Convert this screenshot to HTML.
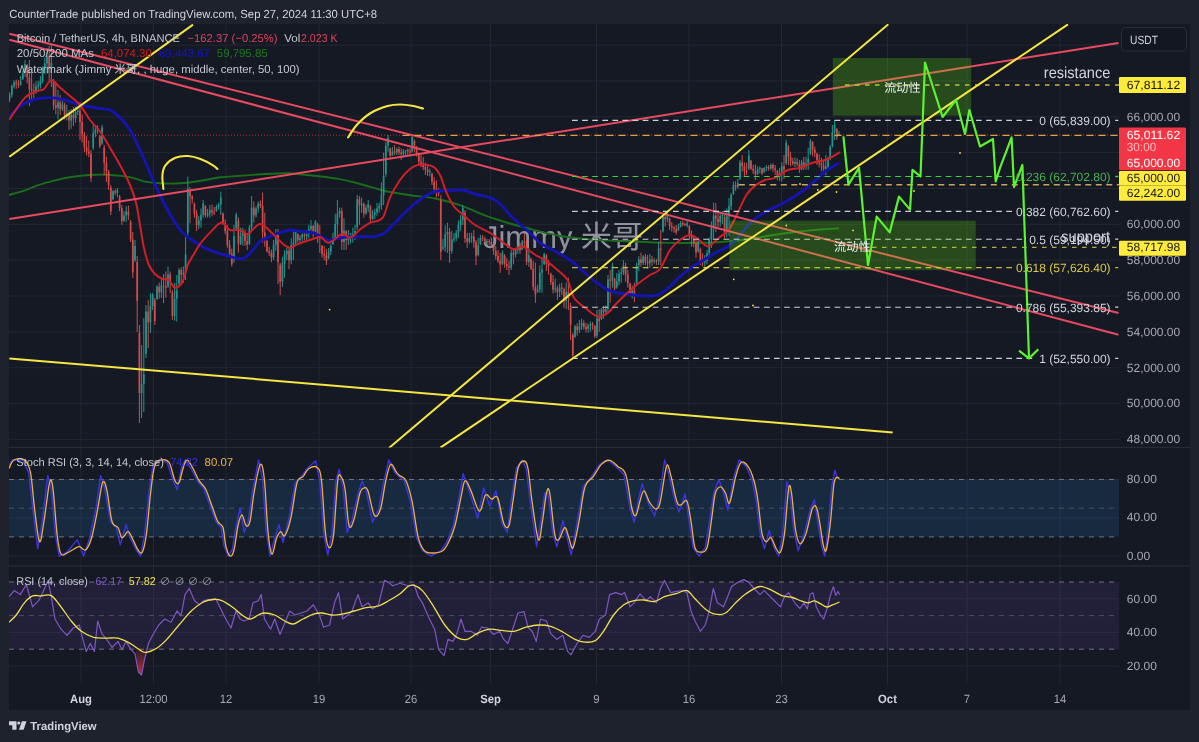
<!DOCTYPE html>
<html lang="en"><head><meta charset="utf-8"><title>BTCUSDT chart</title>
<style>
html,body{margin:0;padding:0;background:#1e222d;}
body{width:1199px;height:742px;overflow:hidden;font-family:"Liberation Sans","Noto Sans CJK SC",sans-serif;}
svg{display:block;position:absolute;left:0;top:0;will-change:transform;text-rendering:geometricPrecision;}
</style></head><body>
<svg width="1199" height="742" viewBox="0 0 1199 742" font-family="'Liberation Sans', 'Noto Sans CJK SC', sans-serif"><rect x="9.0" y="24.0" width="1181.0" height="686.0" fill="#151924"/>
<g><line x1="81.0" y1="24.0" x2="81.0" y2="684.0" stroke="#232733" stroke-width="1"/><line x1="153.5" y1="24.0" x2="153.5" y2="684.0" stroke="#232733" stroke-width="1"/><line x1="226.0" y1="24.0" x2="226.0" y2="684.0" stroke="#232733" stroke-width="1"/><line x1="319.0" y1="24.0" x2="319.0" y2="684.0" stroke="#232733" stroke-width="1"/><line x1="411.0" y1="24.0" x2="411.0" y2="684.0" stroke="#232733" stroke-width="1"/><line x1="490.6" y1="24.0" x2="490.6" y2="684.0" stroke="#232733" stroke-width="1"/><line x1="596.5" y1="24.0" x2="596.5" y2="684.0" stroke="#232733" stroke-width="1"/><line x1="689.0" y1="24.0" x2="689.0" y2="684.0" stroke="#232733" stroke-width="1"/><line x1="781.5" y1="24.0" x2="781.5" y2="684.0" stroke="#232733" stroke-width="1"/><line x1="887.5" y1="24.0" x2="887.5" y2="684.0" stroke="#232733" stroke-width="1"/><line x1="967.0" y1="24.0" x2="967.0" y2="684.0" stroke="#232733" stroke-width="1"/><line x1="1060.0" y1="24.0" x2="1060.0" y2="684.0" stroke="#232733" stroke-width="1"/><line x1="9.0" y1="439.4" x2="1119.0" y2="439.4" stroke="#232733" stroke-width="1"/><line x1="9.0" y1="403.6" x2="1119.0" y2="403.6" stroke="#232733" stroke-width="1"/><line x1="9.0" y1="367.7" x2="1119.0" y2="367.7" stroke="#232733" stroke-width="1"/><line x1="9.0" y1="331.9" x2="1119.0" y2="331.9" stroke="#232733" stroke-width="1"/><line x1="9.0" y1="296.0" x2="1119.0" y2="296.0" stroke="#232733" stroke-width="1"/><line x1="9.0" y1="260.2" x2="1119.0" y2="260.2" stroke="#232733" stroke-width="1"/><line x1="9.0" y1="224.3" x2="1119.0" y2="224.3" stroke="#232733" stroke-width="1"/><line x1="9.0" y1="188.5" x2="1119.0" y2="188.5" stroke="#232733" stroke-width="1"/><line x1="9.0" y1="152.6" x2="1119.0" y2="152.6" stroke="#232733" stroke-width="1"/><line x1="9.0" y1="116.8" x2="1119.0" y2="116.8" stroke="#232733" stroke-width="1"/><line x1="9.0" y1="80.9" x2="1119.0" y2="80.9" stroke="#232733" stroke-width="1"/><line x1="9.0" y1="45.1" x2="1119.0" y2="45.1" stroke="#232733" stroke-width="1"/><line x1="9.0" y1="556.0" x2="1119.0" y2="556.0" stroke="#232733" stroke-width="1"/><line x1="9.0" y1="517.8" x2="1119.0" y2="517.8" stroke="#232733" stroke-width="1"/><line x1="9.0" y1="479.5" x2="1119.0" y2="479.5" stroke="#232733" stroke-width="1"/><line x1="9.0" y1="666.0" x2="1119.0" y2="666.0" stroke="#232733" stroke-width="1"/><line x1="9.0" y1="632.4" x2="1119.0" y2="632.4" stroke="#232733" stroke-width="1"/><line x1="9.0" y1="598.8" x2="1119.0" y2="598.8" stroke="#232733" stroke-width="1"/></g>
<line x1="9.0" y1="447.4" x2="1190.0" y2="447.4" stroke="#2a2e39" stroke-width="1"/>
<line x1="9.0" y1="566.0" x2="1190.0" y2="566.0" stroke="#2a2e39" stroke-width="1"/>
<rect x="9.0" y="479.5" width="1110.0" height="57.4" fill="#2196f3" fill-opacity="0.14"/>
<rect x="9.0" y="582.0" width="1110.0" height="67.2" fill="#7e57c2" fill-opacity="0.13"/>
<line x1="9.0" y1="479.5" x2="1119.0" y2="479.5" stroke="#787b86" stroke-width="1" stroke-dasharray="5 5" opacity="0.9"/>
<line x1="9.0" y1="508.2" x2="1119.0" y2="508.2" stroke="#787b86" stroke-width="1" stroke-dasharray="5 5" opacity="0.5"/>
<line x1="9.0" y1="536.9" x2="1119.0" y2="536.9" stroke="#787b86" stroke-width="1" stroke-dasharray="5 5" opacity="0.9"/>
<line x1="9.0" y1="582.0" x2="1119.0" y2="582.0" stroke="#787b86" stroke-width="1" stroke-dasharray="5 5" opacity="0.9"/>
<line x1="9.0" y1="615.6" x2="1119.0" y2="615.6" stroke="#787b86" stroke-width="1" stroke-dasharray="5 5" opacity="0.5"/>
<line x1="9.0" y1="649.2" x2="1119.0" y2="649.2" stroke="#787b86" stroke-width="1" stroke-dasharray="5 5" opacity="0.9"/>
<clipPath id="c1"><rect x="9" y="24" width="1110" height="423.4"/></clipPath>
<g clip-path="url(#c1)">
<line x1="9.0" y1="135.2" x2="1119.0" y2="135.2" stroke="#f23645" stroke-width="1" stroke-dasharray="1 2" opacity="0.75"/>
<text x="483.0" y="248.3" textLength="160.0" lengthAdjust="spacingAndGlyphs" fill="#b2b5be" fill-opacity="0.78" font-size="31.6">Jimmy 米哥</text>
<path d="M9.0 195.0 C11.7 194.2 20.2 191.9 25.0 190.3 C29.8 188.7 32.6 187.0 37.6 185.3 C42.6 183.6 48.8 181.8 55.0 180.3 C61.2 178.8 68.3 177.4 75.0 176.5 C81.7 175.6 89.5 175.1 95.0 174.8 C100.5 174.5 103.6 174.6 107.8 174.8 C112.0 175.0 115.8 175.3 120.0 175.8 C124.2 176.3 128.8 176.8 133.0 177.8 C137.2 178.8 140.5 180.7 145.0 181.6 C149.5 182.5 154.1 183.0 160.0 183.3 C165.9 183.6 173.8 183.7 180.5 183.3 C187.2 182.9 193.8 181.8 200.5 180.8 C207.2 179.8 213.8 178.1 220.5 177.3 C227.2 176.5 233.1 176.4 240.6 175.8 C248.1 175.2 257.8 174.4 265.7 174.0 C273.6 173.6 282.3 173.2 288.0 173.3 C293.7 173.4 291.8 173.4 300.0 174.3 C308.2 175.2 327.0 177.0 337.0 178.6 C347.0 180.2 352.0 181.9 360.0 184.0 C368.0 186.1 376.7 189.1 385.0 191.0 C393.3 192.9 401.7 193.9 410.0 195.2 C418.3 196.4 426.7 196.8 435.0 198.5 C443.3 200.2 451.7 202.4 460.0 205.2 C468.3 208.0 476.7 212.2 485.0 215.3 C493.3 218.4 501.6 221.0 510.0 223.5 C518.4 226.0 527.0 228.2 535.4 230.3 C543.8 232.4 552.1 234.6 560.5 236.0 C568.9 237.4 577.2 238.2 585.6 239.0 C594.0 239.8 602.2 240.2 610.6 240.6 C619.0 241.0 627.5 241.2 635.7 241.5 C643.9 241.8 650.0 242.3 660.0 242.6 C670.0 242.8 685.3 243.1 695.4 243.0 C705.5 242.9 712.1 242.6 720.5 242.0 C728.9 241.4 737.1 240.6 745.5 239.5 C753.9 238.4 762.2 236.8 770.6 235.5 C779.0 234.2 787.5 233.0 795.7 232.0 C803.9 231.0 812.8 230.1 820.0 229.5 C827.2 228.9 835.8 228.6 839.0 228.4" fill="none" stroke="#1a6e1a" stroke-width="1.9"/>
<g opacity="0.88">
<path d="M9.6 92.2V102.0M11.8 84.6V97.5M14.0 80.4V88.5M20.6 76.1V85.8M22.8 70.8V80.0M25.0 60.0V76.8M36.0 81.6V94.0M38.2 80.8V91.5M40.4 76.0V88.5M42.6 66.1V83.4M44.8 57.5V73.8M47.0 48.0V73.7M51.4 44.0V87.0M58.0 90.0V119.5M62.4 99.0V111.0M66.8 104.7V120.3M71.2 109.1V128.8M75.6 106.6V122.8M77.8 108.0V115.1M93.2 125.0V150.0M95.4 125.0V137.1M97.6 125.0V133.9M102.0 125.0V145.0M113.0 190.0V200.0M117.4 188.0V197.4M124.0 210.9V222.0M126.2 206.2V222.0M135.0 240.0V262.0M141.6 345.0V418.0M143.8 318.0V412.0M146.0 305.0V358.0M150.4 293.0V333.0M152.6 293.0V310.0M157.0 285.0V300.0M161.4 278.0V298.0M168.0 266.6V288.0M174.6 282.9V320.8M176.8 275.0V321.6M179.0 268.0V285.0M183.4 266.5V282.8M185.6 234.0V280.0M187.8 176.5V237.6M198.8 215.9V229.0M201.0 208.4V227.6M203.2 200.0V217.6M207.6 208.8V217.6M209.8 205.0V217.6M216.4 204.7V211.8M218.6 202.6V209.6M220.8 191.6V215.0M234.0 225.0V262.7M236.2 212.6V230.0M240.6 227.6V245.0M242.8 227.7V245.4M249.4 225.0V245.0M251.6 196.0V230.0M256.0 206.3V217.6M258.2 201.5V212.6M273.6 240.0V260.0M275.8 229.0V250.6M282.4 256.8V286.9M284.6 250.0V277.7M286.8 247.7V260.0M291.2 238.2V264.2M293.4 230.0V260.0M295.6 230.0V245.0M300.0 235.0V242.7M302.2 231.0V241.1M306.6 230.0V240.0M308.8 224.7V238.5M311.0 220.0V231.8M315.4 220.0V232.6M328.6 248.0V259.4M330.8 243.5V255.0M333.0 232.6V245.0M335.2 213.7V240.7M337.4 200.0V237.6M339.6 207.6V217.6M344.0 218.1V250.0M348.4 230.0V245.0M350.6 232.9V243.6M352.8 227.6V242.7M355.0 225.0V240.0M357.2 195.0V230.0M361.6 197.5V212.9M366.0 205.0V214.9M368.2 200.0V211.9M372.6 210.0V220.0M374.8 208.6V218.9M377.0 203.0V215.8M379.2 202.7V212.6M381.4 182.5V209.8M383.6 152.6V205.0M385.8 141.6V176.9M388.0 135.0V151.7M392.4 146.8V156.0M396.8 147.5V155.0M403.4 149.0V157.6M405.6 150.0V155.3M412.2 135.0V152.6M429.8 168.7V176.5M443.0 238.8V250.0M445.2 225.5V251.8M447.4 222.8V252.9M451.8 230.8V253.8M454.0 233.0V242.4M456.2 230.0V241.2M458.4 220.5V237.9M460.6 215.0V230.9M462.8 205.0V225.0M469.4 232.8V243.6M471.6 232.8V242.8M478.2 237.9V256.4M480.4 235.0V245.0M487.0 238.8V245.0M502.4 250.5V265.0M511.2 250.0V270.0M515.6 247.8V257.6M517.8 244.3V253.5M522.2 240.0V250.0M528.8 247.5V266.9M537.6 284.7V292.8M539.8 265.3V292.8M542.0 257.7V292.8M544.2 252.7V265.0M555.2 278.7V293.0M559.6 283.6V297.1M566.2 282.4V309.0M575.0 325.0V337.9M579.4 320.0V332.9M581.6 318.7V330.0M588.2 323.6V332.9M590.4 321.5V331.5M597.0 310.0V337.9M601.4 307.8V320.0M605.8 305.3V315.7M608.0 275.0V312.8M612.4 262.7V287.7M616.8 273.1V288.6M619.0 270.0V285.2M621.2 267.7V282.7M623.4 260.2V275.0M632.2 285.6V298.6M636.6 262.7V285.0M638.8 256.1V271.0M643.2 255.0V265.0M649.8 254.0V268.0M654.2 257.7V263.6M658.6 241.7V265.0M663.0 215.0V232.6M667.4 211.5V222.3M678.4 223.6V231.1M680.6 221.0V227.6M687.2 220.3V227.4M698.2 237.6V252.7M704.8 255.0V267.6M707.0 250.0V264.2M709.2 237.6V255.0M711.4 221.2V248.0M713.6 202.5V240.0M720.2 211.7V226.6M722.4 211.2V224.0M726.8 208.3V237.5M729.0 198.0V236.0M731.2 192.8V210.0M733.4 181.5V195.0M737.8 178.8V188.8M740.0 160.0V180.0M748.8 150.0V170.0M757.6 166.3V175.0M759.8 166.5V173.5M764.2 167.1V172.8M766.4 165.2V171.2M770.8 163.7V169.8M779.6 167.8V181.1M781.8 162.2V181.5M786.2 140.0V165.0M795.0 157.5V167.1M801.6 160.0V170.0M806.0 156.7V169.6M808.2 147.7V170.0M810.4 139.0V155.0M825.8 155.0V175.1M828.0 156.6V169.3M830.2 145.0V160.0M832.4 125.0V147.7M834.6 120.0V140.0M839.0 131.1V136.0" stroke="#26a69a" stroke-width="1" fill="none"/>
<path d="M16.2 79.5V88.8M18.4 80.1V88.1M27.2 64.0V83.5M29.4 60.0V106.0M31.6 70.4V101.3M33.8 83.5V98.0M49.2 45.9V80.7M53.6 79.0V110.0M55.8 84.0V114.3M60.2 95.0V114.8M64.6 102.7V119.4M69.0 110.0V130.0M73.4 107.0V126.0M80.0 102.0V140.0M82.2 114.5V142.5M84.4 132.0V152.0M86.6 136.0V155.5M88.8 140.5V157.4M91.0 150.0V182.0M99.8 135.0V148.2M104.2 145.0V175.0M106.4 156.7V182.0M108.6 170.0V190.0M110.8 185.0V215.0M115.2 189.2V195.2M119.6 195.0V211.2M121.8 205.0V225.0M128.4 205.6V220.1M130.6 220.0V242.0M132.8 232.0V278.0M137.2 256.0V332.0M139.4 325.0V423.0M148.2 300.2V348.0M154.8 298.0V325.0M159.2 282.5V298.7M163.6 274.0V303.0M165.8 271.4V297.7M170.2 271.5V293.0M172.4 290.0V320.0M181.2 267.3V284.0M190.0 187.1V223.3M192.2 195.0V203.6M194.4 202.5V217.6M196.6 210.0V231.0M205.4 205.2V217.6M212.0 204.5V216.3M214.2 206.8V215.0M223.0 212.6V225.0M225.2 219.6V234.1M227.4 225.0V247.7M229.6 240.0V257.7M231.8 248.7V266.5M238.4 217.6V252.7M245.0 229.5V246.0M247.2 235.0V249.9M253.8 201.4V222.6M260.4 200.5V208.0M262.6 192.5V242.7M264.8 212.7V246.9M267.0 240.0V252.7M269.2 246.8V255.9M271.4 249.6V262.2M278.0 229.0V284.0M280.2 262.7V295.0M289.0 247.7V269.0M297.8 233.3V242.5M304.4 232.0V240.4M313.2 225.0V237.6M317.6 222.7V242.9M319.8 225.0V252.7M322.0 245.0V257.7M324.2 246.0V260.0M326.4 248.8V265.0M341.8 207.6V250.0M346.2 230.0V249.8M359.4 195.9V224.8M363.8 202.5V217.6M370.4 205.0V222.1M390.2 147.6V157.6M394.6 145.0V155.0M399.0 146.7V155.0M401.2 148.3V160.0M407.8 148.3V155.3M410.0 148.1V154.7M414.4 139.5V152.2M416.6 146.0V156.5M418.8 152.6V165.0M421.0 154.9V167.3M423.2 156.9V170.0M425.4 162.6V175.0M427.6 164.3V175.9M432.0 172.7V185.0M434.2 177.2V190.6M436.4 180.3V197.5M438.6 188.2V196.3M440.8 195.0V260.0M449.6 227.8V262.9M465.0 210.0V242.8M467.2 232.8V247.8M473.8 230.0V247.7M476.0 240.0V265.0M482.6 235.0V241.1M484.8 236.5V244.0M489.2 239.0V245.0M491.4 237.6V248.0M493.6 242.3V255.0M495.8 246.0V259.7M498.0 250.2V262.9M500.2 252.9V272.9M504.6 254.2V267.7M506.8 257.9V270.0M509.0 260.6V275.0M513.4 249.0V264.4M520.0 242.8V253.8M524.4 233.7V248.2M526.6 240.0V265.0M531.0 257.7V270.0M533.2 260.8V290.6M535.4 262.7V302.8M546.4 254.1V271.0M548.6 260.1V274.6M550.8 272.7V285.0M553.0 275.0V293.4M557.4 285.6V300.0M561.8 282.7V295.0M564.0 287.7V307.8M568.4 277.7V310.0M570.6 302.8V340.0M572.8 332.9V358.4M577.2 323.2V335.5M583.8 320.2V329.5M586.0 322.8V332.5M592.6 322.0V329.8M594.8 325.0V337.9M599.2 309.2V331.8M603.6 306.1V318.7M610.2 270.1V302.8M614.6 277.7V290.0M625.6 262.7V281.8M627.8 269.8V287.7M630.0 282.7V295.0M634.4 282.7V302.2M641.0 252.7V266.8M645.4 253.9V265.2M647.6 255.0V268.8M652.0 255.9V265.9M656.4 258.9V265.0M660.8 230.0V265.0M665.2 214.3V226.5M669.6 217.6V230.0M671.8 222.0V231.6M674.0 225.8V232.6M676.2 225.0V234.6M682.8 220.6V226.5M685.0 222.6V226.0M689.4 225.0V240.0M691.6 230.3V246.8M693.8 235.0V247.3M696.0 240.0V257.7M700.4 247.7V265.0M702.6 253.2V266.4M715.8 203.0V232.0M718.0 213.0V228.0M724.6 215.0V238.5M735.6 181.4V190.9M742.2 155.0V171.8M744.4 162.4V176.1M746.6 162.8V175.0M751.0 160.0V170.0M753.2 164.8V174.0M755.4 164.5V180.0M762.0 167.8V175.0M768.6 165.2V170.7M773.0 163.2V171.8M775.2 165.0V175.0M777.4 170.0V180.0M784.0 155.0V178.9M788.4 145.0V165.0M790.6 151.8V166.5M792.8 157.7V165.6M797.2 158.4V166.4M799.4 160.0V172.8M803.8 157.0V170.1M812.6 141.0V156.3M814.8 146.5V157.2M817.0 152.7V165.0M819.2 154.5V167.4M821.4 157.7V171.0M823.6 160.0V172.8M836.8 128.0V140.0" stroke="#ef5350" stroke-width="1" fill="none"/>
<path d="M8.75 95.1h1.7v4.5h-1.7zM10.95 86.1h1.7v8.9h-1.7zM13.15 82.3h1.7v3.9h-1.7zM19.75 81.5h1.7v3.2h-1.7zM21.95 72.9h1.7v6.1h-1.7zM24.15 64.1h1.7v8.8h-1.7zM35.15 86.2h1.7v5.3h-1.7zM37.35 84.7h1.7v1.5h-1.7zM39.55 80.8h1.7v3.9h-1.7zM41.75 68.6h1.7v12.2h-1.7zM43.95 63.6h1.7v5.0h-1.7zM46.15 56.3h1.7v7.3h-1.7zM50.55 63.3h1.7v5.5h-1.7zM57.15 102.4h1.7v5.4h-1.7zM61.55 104.5h1.7v4.8h-1.7zM65.95 113.4h1.7v2.1h-1.7zM70.35 114.7h1.7v5.9h-1.7zM74.75 112.0h1.7v6.2h-1.7zM76.95 110.8h1.7v1.2h-1.7zM92.35 133.3h1.7v14.7h-1.7zM94.55 130.2h1.7v3.1h-1.7zM96.75 128.0h1.7v2.2h-1.7zM101.15 127.4h1.7v16.0h-1.7zM112.15 191.2h1.7v8.0h-1.7zM116.55 190.2h1.7v2.5h-1.7zM123.15 215.5h1.7v5.3h-1.7zM125.35 211.5h1.7v3.9h-1.7zM134.15 246.0h1.7v14.3h-1.7zM140.75 384.3h1.7v8.7h-1.7zM142.95 373.9h1.7v10.4h-1.7zM145.15 311.4h1.7v42.4h-1.7zM149.55 306.0h1.7v16.3h-1.7zM151.75 295.0h1.7v10.9h-1.7zM156.15 286.8h1.7v12.0h-1.7zM160.55 285.4h1.7v6.8h-1.7zM167.15 274.4h1.7v11.9h-1.7zM173.75 298.9h1.7v17.1h-1.7zM175.95 290.2h1.7v8.6h-1.7zM178.15 270.0h1.7v13.6h-1.7zM182.55 273.2h1.7v1.3h-1.7zM184.75 254.5h1.7v18.6h-1.7zM186.95 188.8h1.7v43.9h-1.7zM197.95 220.3h1.7v4.9h-1.7zM200.15 214.7h1.7v5.6h-1.7zM202.35 203.6h1.7v11.1h-1.7zM206.75 213.3h1.7v1.9h-1.7zM208.95 210.3h1.7v3.1h-1.7zM215.55 206.9h1.7v4.1h-1.7zM217.75 204.4h1.7v2.5h-1.7zM219.95 197.6h1.7v6.8h-1.7zM233.15 236.2h1.7v23.5h-1.7zM235.35 214.7h1.7v13.9h-1.7zM239.75 235.7h1.7v7.9h-1.7zM241.95 233.3h1.7v2.4h-1.7zM248.55 227.4h1.7v16.0h-1.7zM250.75 207.6h1.7v19.7h-1.7zM255.15 208.6h1.7v6.7h-1.7zM257.35 203.7h1.7v4.9h-1.7zM272.75 244.5h1.7v12.9h-1.7zM274.95 233.2h1.7v11.4h-1.7zM281.55 263.5h1.7v18.1h-1.7zM283.75 254.3h1.7v9.3h-1.7zM285.95 250.7h1.7v3.6h-1.7zM290.35 245.1h1.7v15.2h-1.7zM292.55 243.1h1.7v2.0h-1.7zM294.75 231.8h1.7v11.3h-1.7zM299.15 237.7h1.7v2.3h-1.7zM301.35 234.7h1.7v3.1h-1.7zM305.75 233.7h1.7v2.2h-1.7zM307.95 229.1h1.7v4.6h-1.7zM310.15 225.9h1.7v3.2h-1.7zM314.55 221.6h1.7v9.9h-1.7zM327.75 251.8h1.7v6.3h-1.7zM329.95 246.1h1.7v5.7h-1.7zM332.15 237.2h1.7v6.8h-1.7zM334.35 224.0h1.7v13.2h-1.7zM336.55 213.8h1.7v10.2h-1.7zM338.75 211.0h1.7v2.8h-1.7zM343.15 230.6h1.7v11.4h-1.7zM347.55 236.8h1.7v3.3h-1.7zM349.75 235.2h1.7v1.7h-1.7zM351.95 234.0h1.7v1.2h-1.7zM354.15 231.1h1.7v2.9h-1.7zM356.35 199.2h1.7v28.0h-1.7zM360.75 203.8h1.7v1.5h-1.7zM365.15 207.7h1.7v5.9h-1.7zM367.35 203.9h1.7v3.8h-1.7zM371.75 214.7h1.7v4.1h-1.7zM373.95 212.5h1.7v2.2h-1.7zM376.15 208.5h1.7v4.0h-1.7zM378.35 206.1h1.7v2.4h-1.7zM380.55 195.3h1.7v10.8h-1.7zM382.75 175.8h1.7v19.6h-1.7zM384.95 145.8h1.7v28.2h-1.7zM387.15 138.0h1.7v7.8h-1.7zM391.55 151.4h1.7v3.8h-1.7zM395.95 148.9h1.7v3.7h-1.7zM402.55 151.2h1.7v2.9h-1.7zM404.75 150.0h1.7v1.2h-1.7zM411.35 137.1h1.7v14.1h-1.7zM428.95 170.9h1.7v1.2h-1.7zM442.15 247.2h1.7v1.2h-1.7zM444.35 234.3h1.7v12.9h-1.7zM446.55 232.0h1.7v2.3h-1.7zM450.95 239.6h1.7v11.3h-1.7zM453.15 238.3h1.7v1.3h-1.7zM455.35 232.8h1.7v5.5h-1.7zM457.55 224.9h1.7v7.9h-1.7zM459.75 220.0h1.7v4.9h-1.7zM461.95 208.1h1.7v11.9h-1.7zM468.55 238.0h1.7v3.7h-1.7zM470.75 236.6h1.7v1.4h-1.7zM477.35 245.4h1.7v9.5h-1.7zM479.55 237.6h1.7v6.6h-1.7zM486.15 240.9h1.7v1.5h-1.7zM501.55 253.0h1.7v10.8h-1.7zM510.35 252.8h1.7v15.0h-1.7zM514.75 249.7h1.7v5.0h-1.7zM516.95 247.0h1.7v2.7h-1.7zM521.35 241.4h1.7v7.8h-1.7zM527.95 255.3h1.7v6.7h-1.7zM536.75 289.5h1.7v2.3h-1.7zM538.95 272.6h1.7v16.9h-1.7zM541.15 269.6h1.7v3.1h-1.7zM543.35 254.2h1.7v9.8h-1.7zM554.35 288.4h1.7v1.2h-1.7zM558.75 287.6h1.7v4.1h-1.7zM565.35 291.8h1.7v9.2h-1.7zM574.15 326.5h1.7v10.3h-1.7zM578.55 326.2h1.7v3.9h-1.7zM580.75 322.9h1.7v3.3h-1.7zM587.35 325.3h1.7v3.5h-1.7zM589.55 324.1h1.7v1.2h-1.7zM596.15 318.4h1.7v17.2h-1.7zM600.55 309.3h1.7v9.8h-1.7zM604.95 309.1h1.7v2.8h-1.7zM607.15 279.5h1.7v29.6h-1.7zM611.55 265.7h1.7v15.0h-1.7zM615.95 281.2h1.7v6.1h-1.7zM618.15 274.1h1.7v7.2h-1.7zM620.35 272.5h1.7v1.6h-1.7zM622.55 265.8h1.7v6.6h-1.7zM631.35 290.4h1.7v2.7h-1.7zM635.75 265.4h1.7v17.8h-1.7zM637.95 259.2h1.7v6.1h-1.7zM642.35 256.6h1.7v6.4h-1.7zM648.95 259.6h1.7v3.7h-1.7zM653.35 260.4h1.7v1.2h-1.7zM657.75 248.6h1.7v13.0h-1.7zM662.15 217.1h1.7v14.1h-1.7zM666.55 214.8h1.7v4.8h-1.7zM677.55 226.7h1.7v3.7h-1.7zM679.75 223.0h1.7v3.7h-1.7zM686.35 223.5h1.7v1.9h-1.7zM697.35 241.6h1.7v9.8h-1.7zM703.95 261.0h1.7v1.2h-1.7zM706.15 253.1h1.7v7.9h-1.7zM708.35 239.7h1.7v13.4h-1.7zM710.55 226.9h1.7v12.8h-1.7zM712.75 215.5h1.7v11.4h-1.7zM719.35 216.1h1.7v5.9h-1.7zM721.55 214.9h1.7v1.2h-1.7zM725.95 216.3h1.7v16.2h-1.7zM728.15 206.2h1.7v10.1h-1.7zM730.35 194.9h1.7v11.3h-1.7zM732.55 185.1h1.7v8.7h-1.7zM736.95 183.0h1.7v3.8h-1.7zM739.15 162.4h1.7v16.0h-1.7zM747.95 155.4h1.7v13.0h-1.7zM756.75 168.9h1.7v5.3h-1.7zM758.95 167.7h1.7v1.2h-1.7zM763.35 168.1h1.7v4.2h-1.7zM765.55 166.9h1.7v1.2h-1.7zM769.95 165.1h1.7v3.4h-1.7zM778.75 173.1h1.7v3.6h-1.7zM780.95 166.3h1.7v6.8h-1.7zM785.35 143.0h1.7v20.0h-1.7zM794.15 161.9h1.7v1.9h-1.7zM800.75 162.2h1.7v7.0h-1.7zM805.15 163.3h1.7v2.7h-1.7zM807.35 159.0h1.7v4.3h-1.7zM809.55 140.9h1.7v12.8h-1.7zM824.95 166.7h1.7v2.4h-1.7zM827.15 159.6h1.7v7.1h-1.7zM829.35 146.8h1.7v12.0h-1.7zM831.55 132.0h1.7v13.9h-1.7zM833.75 124.7h1.7v7.3h-1.7zM838.15 133.7h1.7v1.9h-1.7z" fill="#26a69a"/>
<path d="M15.35 82.3h1.7v1.2h-1.7zM17.55 83.5h1.7v1.2h-1.7zM26.35 65.8h1.7v11.7h-1.7zM28.55 77.6h1.7v11.6h-1.7zM30.75 89.2h1.7v1.2h-1.7zM32.95 90.4h1.7v1.2h-1.7zM48.35 56.3h1.7v12.5h-1.7zM52.75 81.5h1.7v23.4h-1.7zM54.95 104.9h1.7v2.9h-1.7zM59.35 102.4h1.7v6.9h-1.7zM63.75 104.5h1.7v11.0h-1.7zM68.15 113.4h1.7v7.2h-1.7zM72.55 114.7h1.7v3.6h-1.7zM79.15 110.8h1.7v11.1h-1.7zM81.35 121.9h1.7v12.2h-1.7zM83.55 134.1h1.7v13.2h-1.7zM85.75 147.3h1.7v4.3h-1.7zM87.95 151.6h1.7v2.1h-1.7zM90.15 153.7h1.7v24.4h-1.7zM98.95 136.2h1.7v9.7h-1.7zM103.35 147.4h1.7v15.3h-1.7zM105.55 162.7h1.7v8.3h-1.7zM107.75 171.6h1.7v13.2h-1.7zM109.95 187.4h1.7v24.0h-1.7zM114.35 191.2h1.7v1.5h-1.7zM118.75 196.6h1.7v11.3h-1.7zM120.95 207.9h1.7v13.4h-1.7zM127.55 211.5h1.7v3.7h-1.7zM129.75 221.8h1.7v17.6h-1.7zM131.95 239.4h1.7v33.1h-1.7zM136.35 262.1h1.7v39.0h-1.7zM138.55 332.8h1.7v60.2h-1.7zM147.35 311.4h1.7v10.9h-1.7zM153.95 300.2h1.7v20.7h-1.7zM158.35 286.8h1.7v5.4h-1.7zM162.75 285.4h1.7v1.2h-1.7zM164.95 286.6h1.7v1.2h-1.7zM169.35 274.4h1.7v7.4h-1.7zM171.55 292.4h1.7v23.6h-1.7zM180.35 270.0h1.7v4.5h-1.7zM189.15 190.0h1.7v6.4h-1.7zM191.35 196.4h1.7v2.7h-1.7zM193.55 203.7h1.7v9.9h-1.7zM195.75 213.6h1.7v11.5h-1.7zM204.55 206.2h1.7v9.0h-1.7zM211.15 210.3h1.7v1.9h-1.7zM213.35 212.2h1.7v1.2h-1.7zM222.15 213.6h1.7v9.9h-1.7zM224.35 223.5h1.7v7.7h-1.7zM226.55 231.2h1.7v13.8h-1.7zM228.75 245.0h1.7v8.4h-1.7zM230.95 253.4h1.7v10.9h-1.7zM237.55 220.4h1.7v23.9h-1.7zM244.15 233.3h1.7v7.7h-1.7zM246.35 241.0h1.7v3.4h-1.7zM252.95 207.6h1.7v7.7h-1.7zM259.55 203.7h1.7v2.2h-1.7zM261.75 205.9h1.7v26.6h-1.7zM263.95 232.5h1.7v3.9h-1.7zM266.15 241.0h1.7v10.2h-1.7zM268.35 251.2h1.7v1.5h-1.7zM270.55 252.7h1.7v4.8h-1.7zM277.15 233.4h1.7v28.8h-1.7zM279.35 265.3h1.7v16.4h-1.7zM288.15 250.7h1.7v9.6h-1.7zM296.95 234.1h1.7v5.9h-1.7zM303.55 234.7h1.7v1.2h-1.7zM312.35 226.0h1.7v6.1h-1.7zM316.75 224.3h1.7v10.5h-1.7zM318.95 234.9h1.7v1.9h-1.7zM321.15 246.0h1.7v7.7h-1.7zM323.35 253.7h1.7v1.8h-1.7zM325.55 255.4h1.7v5.9h-1.7zM340.95 211.0h1.7v30.9h-1.7zM345.35 231.6h1.7v8.5h-1.7zM358.55 199.2h1.7v6.1h-1.7zM362.95 203.8h1.7v9.8h-1.7zM369.55 206.4h1.7v12.4h-1.7zM389.35 148.4h1.7v7.3h-1.7zM393.75 151.4h1.7v1.2h-1.7zM398.15 148.9h1.7v3.6h-1.7zM400.35 152.5h1.7v1.5h-1.7zM406.95 150.0h1.7v1.2h-1.7zM409.15 151.2h1.7v1.2h-1.7zM413.55 140.7h1.7v6.9h-1.7zM415.75 147.6h1.7v5.8h-1.7zM417.95 153.6h1.7v8.2h-1.7zM420.15 161.8h1.7v1.8h-1.7zM422.35 163.6h1.7v3.5h-1.7zM424.55 167.1h1.7v2.7h-1.7zM426.75 169.8h1.7v2.3h-1.7zM431.15 173.7h1.7v8.0h-1.7zM433.35 181.7h1.7v7.2h-1.7zM435.55 188.9h1.7v1.8h-1.7zM437.75 190.6h1.7v2.9h-1.7zM439.95 200.2h1.7v52.0h-1.7zM448.75 232.0h1.7v19.0h-1.7zM464.15 212.6h1.7v25.6h-1.7zM466.35 238.3h1.7v3.4h-1.7zM472.95 236.6h1.7v5.7h-1.7zM475.15 242.3h1.7v13.4h-1.7zM481.75 237.6h1.7v1.2h-1.7zM483.95 238.8h1.7v3.5h-1.7zM488.35 240.9h1.7v1.2h-1.7zM490.55 242.1h1.7v2.5h-1.7zM492.75 244.6h1.7v6.5h-1.7zM494.95 251.1h1.7v4.8h-1.7zM497.15 255.9h1.7v4.9h-1.7zM499.35 260.8h1.7v3.8h-1.7zM503.75 255.3h1.7v8.7h-1.7zM505.95 264.0h1.7v2.6h-1.7zM508.15 266.6h1.7v1.2h-1.7zM512.55 252.8h1.7v1.9h-1.7zM519.15 247.0h1.7v3.6h-1.7zM523.55 241.4h1.7v1.2h-1.7zM525.75 242.6h1.7v19.4h-1.7zM530.15 258.7h1.7v9.8h-1.7zM532.35 268.5h1.7v18.5h-1.7zM534.55 287.0h1.7v7.6h-1.7zM545.55 255.4h1.7v8.3h-1.7zM547.75 263.7h1.7v2.2h-1.7zM549.95 273.7h1.7v8.2h-1.7zM552.15 281.9h1.7v7.7h-1.7zM556.55 288.4h1.7v3.4h-1.7zM560.95 287.6h1.7v1.2h-1.7zM563.15 289.3h1.7v11.7h-1.7zM567.55 291.8h1.7v6.9h-1.7zM569.75 305.8h1.7v19.0h-1.7zM571.95 334.9h1.7v20.4h-1.7zM576.35 326.5h1.7v3.6h-1.7zM582.95 322.9h1.7v4.1h-1.7zM585.15 327.1h1.7v1.8h-1.7zM591.75 324.1h1.7v1.2h-1.7zM593.95 326.0h1.7v10.3h-1.7zM598.35 318.4h1.7v2.5h-1.7zM602.75 309.3h1.7v2.6h-1.7zM609.35 279.5h1.7v1.2h-1.7zM613.75 278.7h1.7v9.8h-1.7zM624.75 265.8h1.7v8.8h-1.7zM626.95 274.6h1.7v8.7h-1.7zM629.15 283.7h1.7v9.5h-1.7zM633.55 290.4h1.7v5.7h-1.7zM640.15 259.2h1.7v3.8h-1.7zM644.55 256.6h1.7v5.2h-1.7zM646.75 261.8h1.7v1.4h-1.7zM651.15 259.6h1.7v2.0h-1.7zM655.55 260.4h1.7v1.2h-1.7zM659.95 248.6h1.7v1.3h-1.7zM664.35 217.1h1.7v2.5h-1.7zM668.75 218.6h1.7v7.7h-1.7zM670.95 226.3h1.7v1.2h-1.7zM673.15 227.5h1.7v1.5h-1.7zM675.35 229.0h1.7v3.8h-1.7zM681.95 223.0h1.7v1.2h-1.7zM684.15 224.2h1.7v1.2h-1.7zM688.55 226.2h1.7v9.1h-1.7zM690.75 235.3h1.7v3.5h-1.7zM692.95 238.9h1.7v4.6h-1.7zM695.15 243.4h1.7v9.2h-1.7zM699.55 249.1h1.7v11.9h-1.7zM701.75 261.0h1.7v1.2h-1.7zM714.95 215.5h1.7v3.3h-1.7zM717.15 218.8h1.7v3.2h-1.7zM723.75 216.9h1.7v15.6h-1.7zM734.75 185.1h1.7v1.7h-1.7zM741.35 162.4h1.7v3.6h-1.7zM743.55 166.0h1.7v4.8h-1.7zM745.75 170.9h1.7v1.2h-1.7zM750.15 160.8h1.7v8.0h-1.7zM752.35 168.8h1.7v2.0h-1.7zM754.55 170.8h1.7v3.5h-1.7zM761.15 168.4h1.7v5.0h-1.7zM767.75 166.9h1.7v1.6h-1.7zM772.15 165.1h1.7v3.3h-1.7zM774.35 168.5h1.7v1.6h-1.7zM776.55 170.8h1.7v5.9h-1.7zM783.15 166.3h1.7v2.9h-1.7zM787.55 146.6h1.7v10.4h-1.7zM789.75 157.0h1.7v4.2h-1.7zM791.95 161.2h1.7v2.6h-1.7zM796.35 161.9h1.7v2.3h-1.7zM798.55 164.3h1.7v5.0h-1.7zM802.95 162.2h1.7v3.8h-1.7zM811.75 142.3h1.7v7.4h-1.7zM813.95 149.7h1.7v3.2h-1.7zM816.15 153.7h1.7v6.4h-1.7zM818.35 160.0h1.7v3.3h-1.7zM820.55 163.3h1.7v2.0h-1.7zM822.75 165.4h1.7v3.7h-1.7zM835.95 129.0h1.7v8.1h-1.7z" fill="#ef5350"/>
</g>
<path d="M9.0 117.0 C10.8 115.2 16.1 109.2 20.0 106.4 C23.9 103.6 27.6 101.5 32.6 100.0 C37.6 98.5 44.6 97.6 50.0 97.6 C55.4 97.6 60.0 98.8 65.0 100.0 C70.0 101.2 74.2 103.6 80.0 105.0 C85.8 106.4 95.0 107.6 100.0 108.4 C105.0 109.2 106.7 108.5 110.0 110.0 C113.3 111.5 116.7 114.3 120.0 117.6 C123.3 120.9 126.7 124.6 130.0 130.0 C133.3 135.4 136.7 142.9 140.0 150.0 C143.3 157.1 146.7 165.3 150.0 172.8 C153.3 180.3 156.6 188.0 160.0 195.0 C163.4 202.0 167.0 209.1 170.4 215.0 C173.8 220.9 177.2 226.4 180.5 230.4 C183.8 234.4 187.2 236.5 190.5 239.0 C193.8 241.5 196.8 243.4 200.5 245.5 C204.2 247.6 208.7 249.8 212.8 251.4 C216.9 253.0 221.0 253.8 225.0 255.0 C229.0 256.2 233.3 257.9 236.6 258.4 C239.9 258.8 242.3 259.1 245.0 257.7 C247.7 256.3 250.5 252.7 253.0 250.0 C255.5 247.3 257.2 243.7 260.0 241.4 C262.8 239.1 266.7 237.9 270.0 236.4 C273.3 234.9 276.6 233.7 280.0 232.6 C283.4 231.5 287.1 230.2 290.5 230.0 C293.9 229.8 296.8 231.0 300.5 231.4 C304.2 231.8 309.7 231.8 313.0 232.6 C316.3 233.4 318.0 235.2 320.5 236.4 C323.0 237.6 325.5 239.6 328.0 240.0 C330.5 240.4 332.7 239.5 335.6 239.0 C338.5 238.5 342.3 237.3 345.6 237.0 C348.9 236.7 352.2 237.1 355.6 237.0 C359.0 236.9 362.5 236.6 365.7 236.5 C368.9 236.4 371.8 237.2 375.0 236.6 C378.2 236.0 381.7 235.1 385.0 232.8 C388.3 230.5 390.8 227.0 395.0 222.8 C399.2 218.6 405.4 211.9 410.0 207.7 C414.6 203.5 418.5 200.4 422.7 197.7 C426.9 195.0 430.4 192.7 435.0 191.5 C439.6 190.3 445.4 190.9 450.0 190.7 C454.6 190.4 458.6 189.4 462.8 190.0 C467.0 190.6 470.5 192.7 475.0 194.0 C479.5 195.3 485.8 196.0 490.0 197.7 C494.2 199.4 496.7 201.1 500.0 204.0 C503.3 206.9 506.7 211.6 510.0 215.0 C513.3 218.4 516.7 221.5 520.0 224.5 C523.3 227.5 526.7 229.8 530.0 232.8 C533.3 235.9 536.7 240.2 540.0 242.8 C543.3 245.4 546.6 246.6 550.0 248.5 C553.4 250.4 557.1 252.0 560.5 254.0 C563.9 256.0 567.1 257.9 570.5 260.4 C573.9 262.9 577.2 266.1 580.6 269.0 C584.0 271.9 587.3 275.3 590.6 278.0 C593.9 280.7 597.3 283.2 600.6 285.4 C603.9 287.6 606.4 289.6 610.6 291.0 C614.8 292.4 620.3 293.2 625.7 294.0 C631.1 294.8 637.4 295.7 642.8 295.8 C648.1 295.9 653.3 296.4 657.8 294.8 C662.3 293.2 666.3 289.6 670.0 286.5 C673.7 283.4 676.2 279.9 680.0 276.5 C683.8 273.1 688.8 269.3 693.0 266.4 C697.2 263.5 701.3 261.5 705.5 259.0 C709.7 256.5 714.2 253.5 718.0 251.4 C721.8 249.3 724.7 248.7 728.0 246.4 C731.3 244.1 734.3 241.5 738.0 237.6 C741.7 233.7 745.5 227.3 750.0 223.0 C754.5 218.7 759.5 215.2 765.0 212.0 C770.5 208.8 776.9 206.7 782.7 203.5 C788.5 200.3 795.0 196.2 800.0 192.8 C805.0 189.4 808.6 186.4 812.8 182.8 C817.0 179.2 820.6 174.8 825.0 171.5 C829.4 168.2 836.7 164.2 839.0 162.8" fill="none" stroke="#1414b0" stroke-width="2.9"/>
<path d="M9.0 120.0 C11.7 116.3 20.2 102.4 25.0 97.6 C29.8 92.8 34.4 92.4 37.6 91.0 C40.8 89.6 41.7 90.8 44.0 89.0 C46.3 87.2 48.7 80.2 51.4 80.0 C54.1 79.8 56.9 84.9 60.0 87.6 C63.1 90.3 66.7 93.1 70.0 96.0 C73.3 98.9 76.7 101.0 80.0 105.0 C83.3 109.0 86.7 115.6 90.0 120.0 C93.3 124.4 96.7 126.8 100.0 131.4 C103.3 136.0 106.7 142.1 110.0 147.7 C113.3 153.3 116.7 158.8 120.0 165.0 C123.3 171.2 127.3 178.7 130.0 185.0 C132.7 191.3 134.3 195.9 136.0 202.6 C137.7 209.3 138.7 217.5 140.0 225.0 C141.3 232.5 142.4 241.0 143.9 247.7 C145.4 254.4 147.1 260.6 148.9 265.0 C150.8 269.4 152.7 271.7 155.0 274.0 C157.3 276.3 160.4 278.0 162.7 279.0 C165.0 280.0 166.9 278.5 169.0 280.0 C171.1 281.5 172.7 287.6 175.0 287.8 C177.3 288.1 180.6 285.3 182.7 281.5 C184.8 277.7 185.8 269.6 187.7 265.0 C189.6 260.4 191.9 257.5 194.0 254.0 C196.1 250.5 197.3 247.6 200.0 244.0 C202.7 240.4 206.4 236.2 210.0 232.6 C213.6 229.0 218.3 223.0 221.6 222.6 C224.9 222.2 226.9 228.8 230.0 230.0 C233.1 231.2 237.0 229.3 240.0 230.0 C243.0 230.7 244.7 235.0 248.0 234.0 C251.3 233.0 255.8 224.0 260.0 224.0 C264.2 224.0 269.2 230.7 273.0 234.0 C276.8 237.3 280.1 241.7 283.0 244.0 C285.9 246.3 288.0 247.7 290.5 247.7 C293.0 247.7 294.2 245.4 298.0 244.0 C301.8 242.6 309.2 240.2 313.0 239.0 C316.8 237.8 317.8 236.4 320.5 237.0 C323.2 237.6 325.4 243.2 329.0 242.7 C332.6 242.2 338.4 234.8 342.0 234.0 C345.6 233.2 347.5 238.4 350.6 237.6 C353.7 236.8 357.4 231.5 360.6 229.0 C363.8 226.5 366.3 224.7 370.0 222.8 C373.7 220.9 379.3 222.0 382.6 217.8 C385.9 213.6 387.1 204.0 390.0 197.7 C392.9 191.4 396.7 184.8 400.0 180.0 C403.3 175.2 406.7 171.6 410.0 169.0 C413.3 166.4 416.2 165.0 420.0 164.6 C423.8 164.2 429.4 164.7 432.7 166.4 C436.0 168.1 437.7 170.6 440.0 175.0 C442.3 179.4 444.2 187.4 446.5 192.7 C448.8 197.9 450.9 202.5 454.0 206.5 C457.1 210.5 461.5 213.4 465.0 216.5 C468.5 219.6 470.8 222.3 475.0 225.0 C479.2 227.7 485.8 230.3 490.0 232.8 C494.2 235.3 496.2 237.3 500.0 240.0 C503.8 242.7 509.2 247.9 513.0 249.0 C516.8 250.1 519.3 245.6 523.0 246.6 C526.7 247.6 531.6 252.7 535.4 255.0 C539.1 257.3 541.7 257.8 545.5 260.4 C549.3 263.0 554.3 267.1 558.0 270.4 C561.7 273.7 564.9 275.4 567.6 280.0 C570.3 284.6 571.1 293.2 574.0 297.8 C576.9 302.4 581.0 304.7 585.0 307.8 C589.0 310.9 593.9 315.8 597.7 316.6 C601.5 317.4 604.8 314.7 607.7 312.8 C610.6 310.9 612.1 308.0 615.0 305.0 C617.9 302.0 621.2 298.5 625.0 295.0 C628.8 291.5 633.6 287.3 637.8 284.0 C642.0 280.7 646.3 277.5 650.0 275.0 C653.7 272.5 656.7 273.2 660.0 269.0 C663.3 264.8 666.7 254.8 670.0 250.0 C673.3 245.2 676.7 242.5 680.0 240.0 C683.3 237.5 687.0 235.2 690.0 235.0 C693.0 234.8 695.0 237.1 698.0 239.0 C701.0 240.9 704.7 246.5 708.0 246.4 C711.3 246.3 714.7 241.1 718.0 238.5 C721.3 235.9 725.1 233.7 727.6 231.0 C730.1 228.3 731.3 225.6 733.0 222.6 C734.7 219.6 735.4 217.6 737.6 213.0 C739.8 208.4 743.7 199.4 746.4 195.0 C749.1 190.6 750.9 189.1 754.0 186.6 C757.1 184.1 761.5 181.5 765.0 180.0 C768.5 178.5 771.2 179.5 775.0 177.8 C778.8 176.1 783.5 171.7 787.7 170.0 C791.9 168.3 795.8 169.0 800.0 167.8 C804.2 166.6 808.6 164.1 812.8 162.8 C817.0 161.5 821.7 161.1 825.0 160.0 C828.3 158.9 830.3 157.8 832.8 156.5 C835.3 155.2 838.8 152.8 840.0 152.0" fill="none" stroke="#d21f26" stroke-width="2"/>
<line x1="9.4" y1="33.7" x2="1118.5" y2="313.0" stroke="#e84a5f" stroke-width="2"/>
<line x1="9.4" y1="39.8" x2="1118.5" y2="334.8" stroke="#e84a5f" stroke-width="2"/>
<line x1="9.4" y1="219.0" x2="1118.5" y2="43.1" stroke="#e84a5f" stroke-width="2"/>
<line x1="402.6" y1="135.3" x2="1119.0" y2="135.3" stroke="#e0a040" stroke-width="1.2" stroke-dasharray="7 5"/>
<line x1="572.0" y1="120.4" x2="1036.2" y2="120.4" stroke="#cdd0d8" stroke-width="1.15" stroke-dasharray="5.7 4.4"/>
<line x1="1115.2" y1="120.4" x2="1118.3" y2="120.4" stroke="#cdd0d8" stroke-width="1.3"/>
<line x1="572.0" y1="176.5" x2="1012.9" y2="176.5" stroke="#3fd13f" stroke-width="1.15" stroke-dasharray="5.7 4.4"/>
<line x1="1115.2" y1="176.5" x2="1118.3" y2="176.5" stroke="#3fd13f" stroke-width="1.3"/>
<line x1="572.0" y1="211.4" x2="1012.9" y2="211.4" stroke="#cdd0d8" stroke-width="1.15" stroke-dasharray="5.7 4.4"/>
<line x1="1115.2" y1="211.4" x2="1118.3" y2="211.4" stroke="#cdd0d8" stroke-width="1.3"/>
<line x1="572.0" y1="239.2" x2="1026.2" y2="239.2" stroke="#cdd0d8" stroke-width="1.15" stroke-dasharray="5.7 4.4"/>
<line x1="1115.2" y1="239.2" x2="1118.3" y2="239.2" stroke="#cdd0d8" stroke-width="1.3"/>
<line x1="572.0" y1="267.6" x2="1012.9" y2="267.6" stroke="#c9b83c" stroke-width="1.15" stroke-dasharray="5.7 4.4"/>
<line x1="1115.2" y1="267.6" x2="1118.3" y2="267.6" stroke="#c9b83c" stroke-width="1.3"/>
<line x1="572.0" y1="307.2" x2="1012.9" y2="307.2" stroke="#cdd0d8" stroke-width="1.15" stroke-dasharray="5.7 4.4"/>
<line x1="1115.2" y1="307.2" x2="1118.3" y2="307.2" stroke="#cdd0d8" stroke-width="1.3"/>
<line x1="572.0" y1="358.4" x2="1036.2" y2="358.4" stroke="#cdd0d8" stroke-width="1.15" stroke-dasharray="5.7 4.4"/>
<line x1="1115.2" y1="358.4" x2="1118.3" y2="358.4" stroke="#cdd0d8" stroke-width="1.3"/>
<line x1="845.0" y1="85.0" x2="1119.0" y2="85.0" stroke="#c8b840" stroke-width="1.3" stroke-dasharray="4.5 5.5"/>
<line x1="738.8" y1="184.7" x2="1119.0" y2="184.7" stroke="#c8a856" stroke-width="1.5" stroke-dasharray="6 4.5"/>
<line x1="872.0" y1="247.3" x2="1119.0" y2="247.3" stroke="#b8aa4c" stroke-width="1.3" stroke-dasharray="4.5 5.5"/>
<rect x="832.8" y="58.0" width="138.4" height="57.6" fill="#6cff08" fill-opacity="0.22"/>
<rect x="729.3" y="220.6" width="246.4" height="49.6" fill="#6cff08" fill-opacity="0.22"/>
<line x1="9.4" y1="156.7" x2="193.0" y2="24.6" stroke="#f5e642" stroke-width="2"/>
<line x1="389.0" y1="448.0" x2="888.3" y2="24.3" stroke="#f5e642" stroke-width="2"/>
<line x1="440.4" y1="447.7" x2="1068.0" y2="24.3" stroke="#f5e642" stroke-width="2"/>
<line x1="9.4" y1="358.4" x2="892.7" y2="432.5" stroke="#f5e642" stroke-width="2"/>
<path d="M163.4 189.0 C163.2 186.7 162.1 179.2 162.4 175.3 C162.7 171.4 163.2 168.2 165.4 165.3 C167.6 162.4 171.6 159.2 175.4 157.7 C179.2 156.1 183.8 155.8 188.0 156.0 C192.2 156.2 196.3 157.4 200.5 159.0 C204.7 160.6 210.2 163.6 213.0 165.3 C215.8 167.0 216.8 168.4 217.5 169.0" fill="none" stroke="#f5e642" stroke-width="2.1" stroke-linecap="round"/>
<path d="M348.0 137.5 C349.5 135.4 353.2 128.8 357.0 124.7 C360.8 120.6 365.6 116.1 370.7 113.0 C375.8 109.9 382.6 107.4 387.5 106.0 C392.4 104.6 395.7 104.5 400.0 104.5 C404.3 104.5 409.7 105.3 413.5 106.0 C417.3 106.7 421.4 108.1 423.0 108.5" fill="none" stroke="#f5e642" stroke-width="2.1" stroke-linecap="round"/>
<circle cx="329.6" cy="309.6" r="0.9" fill="#f5e642"/>
<circle cx="733.8" cy="279.3" r="0.9" fill="#f5e642"/>
<circle cx="753" cy="305.5" r="0.9" fill="#f5e642"/>
<circle cx="960" cy="153" r="0.9" fill="#f5e642"/>
<circle cx="914" cy="191" r="0.9" fill="#f5e642"/>
<circle cx="836.5" cy="192" r="0.9" fill="#f5e642"/>
<circle cx="800" cy="184" r="0.9" fill="#f5e642"/>
<circle cx="817.8" cy="190" r="0.9" fill="#f5e642"/>
<circle cx="786.3" cy="225.5" r="0.9" fill="#f5e642"/>
<circle cx="853" cy="230.4" r="0.9" fill="#f5e642"/>
<polyline points="843.4,136.4 848.4,184.6 859.0,167.8 868.0,265.0 876.7,216.6 889.7,232.4 899.0,196.6 910.0,209.6 912.5,169.8 920.5,176.5 925.0,62.5 942.6,117.0 956.0,100.0 965.0,134.0 969.4,110.0 980.0,146.5 993.0,139.0 995.7,181.5 1000.0,167.8 1011.6,137.5 1014.0,187.0 1022.4,165.0 1029.0,358.0" fill="none" stroke="#5cf22e" stroke-width="2.2" stroke-linejoin="round"/>
<polyline points="1019.0,350.6 1029.0,358.4 1038.3,349.3" fill="none" stroke="#5cf22e" stroke-width="2.2" stroke-linejoin="round"/>
<text x="1043.8" y="78.3" textLength="66.5" lengthAdjust="spacingAndGlyphs" fill="#d1d4dc" font-size="16">resistance</text>
<text x="1061.2" y="241.5" textLength="48.8" lengthAdjust="spacingAndGlyphs" fill="#d1d4dc" font-size="16">support</text>
<text x="884.2" y="91.6" textLength="36.3" lengthAdjust="spacingAndGlyphs" fill="#eceef2" font-size="12.1">流动性</text>
<text x="834.0" y="250.6" textLength="36.6" lengthAdjust="spacingAndGlyphs" fill="#eceef2" font-size="12.1">流动性</text>
<text x="1110.6" y="124.7" textLength="71.4" lengthAdjust="spacingAndGlyphs" fill="#d1d4dc" font-size="12" text-anchor="end">0 (65,839.00)</text>
<text x="1110.6" y="180.8" textLength="94.7" lengthAdjust="spacingAndGlyphs" fill="#4caf50" font-size="12" text-anchor="end">0.236 (62,702.80)</text>
<text x="1110.6" y="215.7" textLength="94.7" lengthAdjust="spacingAndGlyphs" fill="#d1d4dc" font-size="12" text-anchor="end">0.382 (60,762.60)</text>
<text x="1110.6" y="243.5" textLength="81.4" lengthAdjust="spacingAndGlyphs" fill="#d1d4dc" font-size="12" text-anchor="end">0.5 (59,194.50)</text>
<text x="1110.6" y="271.9" textLength="94.7" lengthAdjust="spacingAndGlyphs" fill="#d8c84a" font-size="12" text-anchor="end">0.618 (57,626.40)</text>
<text x="1110.6" y="311.5" textLength="94.7" lengthAdjust="spacingAndGlyphs" fill="#d1d4dc" font-size="12" text-anchor="end">0.786 (55,393.85)</text>
<text x="1110.6" y="362.7" textLength="71.4" lengthAdjust="spacingAndGlyphs" fill="#d1d4dc" font-size="12" text-anchor="end">1 (52,550.00)</text>
</g>
<clipPath id="c2"><rect x="9" y="447.4" width="1110" height="118.60000000000002"/></clipPath>
<g clip-path="url(#c2)">
<polyline points="7.2,468.5 12.2,460.0 22.6,460.0 28.7,472.6 32.8,509.0 37.7,548.7 42.2,521.0 47.8,475.7 51.2,488.8 55.2,533.6 59.2,556.0 67.2,552.0 77.2,539.6 83.7,556.0 89.8,537.7 95.9,509.0 100.7,475.7 104.8,488.8 110.2,521.4 116.2,527.5 120.2,544.7 126.2,524.6 130.2,537.7 136.2,550.0 140.6,556.0 144.7,533.6 148.8,493.0 152.8,466.4 158.9,460.0 167.2,462.4 173.2,480.7 177.2,489.7 181.2,468.5 185.2,460.0 191.2,468.5 197.2,480.7 203.7,488.8 209.8,505.0 215.9,521.4 221.2,527.5 224.0,545.8 228.2,556.0 232.2,550.0 236.2,525.5 240.2,508.0 244.2,532.5 248.2,521.4 252.2,493.0 258.6,460.0 262.7,480.7 266.0,529.5 270.0,556.0 274.9,537.7 279.0,524.6 283.0,542.6 289.2,517.3 295.2,482.7 301.2,476.6 307.2,468.5 315.6,460.7 319.7,480.7 323.7,533.6 327.8,554.8 331.9,533.6 335.9,480.7 339.2,469.6 343.2,488.8 347.2,532.5 352.2,519.4 358.2,493.0 362.2,481.0 366.2,490.9 372.6,522.3 378.7,509.0 384.0,480.7 388.8,460.0 394.9,472.6 398.2,475.8 404.2,480.7 410.2,501.0 416.5,537.7 422.6,550.7 430.8,556.0 440.9,550.7 447.0,541.7 453.2,525.5 459.2,497.0 463.2,473.7 469.2,490.9 477.6,518.2 483.7,488.0 489.8,506.0 495.9,490.8 502.0,523.4 507.2,532.5 511.2,501.0 516.2,468.5 522.2,460.0 526.2,468.5 530.2,501.0 536.6,546.7 540.6,521.4 544.7,493.0 547.9,493.0 552.8,533.6 556.9,546.7 563.0,520.5 567.1,537.7 571.2,554.8 577.2,521.4 583.2,486.8 591.5,476.6 599.6,464.4 607.8,460.0 615.9,466.4 624.0,474.6 630.2,509.0 634.2,522.3 638.2,501.0 642.2,483.9 648.2,503.0 654.6,516.0 658.6,501.0 664.7,460.0 668.8,474.6 674.9,501.0 679.0,512.0 685.1,494.0 689.2,521.4 693.2,547.8 699.2,556.0 705.2,547.8 709.5,521.4 713.6,493.0 718.9,479.8 723.7,493.0 727.8,510.0 733.9,476.6 739.2,460.0 746.2,466.4 752.2,480.7 756.2,501.0 760.2,533.6 764.4,548.7 769.2,530.7 774.6,549.0 778.7,556.0 782.7,533.6 786.8,481.8 789.7,493.0 793.7,529.5 798.2,550.8 804.2,533.6 810.4,509.0 814.5,500.0 817.7,521.4 821.8,546.7 824.7,556.0 828.7,521.4 832.0,484.8 834.8,470.5 837.7,478.7" fill="none" stroke="#3a34e0" stroke-width="1.45" stroke-linejoin="round"/>
<path d="M9.0 468.5 C9.8 467.1 11.4 461.4 14.0 460.0 C16.6 458.6 21.6 457.9 24.4 460.0 C27.1 462.1 28.8 464.4 30.5 472.6 C32.2 480.8 33.1 497.5 34.6 509.0 C36.1 520.5 37.9 539.7 39.5 541.7 C41.1 543.7 42.3 530.8 44.0 521.0 C45.7 511.2 48.1 488.1 49.6 482.7 C51.1 477.3 51.8 480.3 53.0 488.8 C54.2 497.3 55.7 522.7 57.0 533.6 C58.3 544.5 59.0 550.9 61.0 554.0 C63.0 557.1 66.0 553.2 69.0 552.0 C72.0 550.8 76.2 546.9 79.0 546.6 C81.8 546.3 83.4 551.5 85.5 550.0 C87.6 548.5 89.6 544.5 91.6 537.7 C93.6 530.9 95.9 518.2 97.7 509.0 C99.5 499.8 101.0 486.1 102.5 482.7 C104.0 479.3 105.0 482.4 106.6 488.8 C108.2 495.2 110.1 514.9 112.0 521.4 C113.9 527.9 116.3 524.8 118.0 527.5 C119.7 530.2 120.3 537.0 122.0 537.7 C123.7 538.4 126.3 531.6 128.0 531.6 C129.7 531.6 130.3 534.6 132.0 537.7 C133.7 540.8 136.3 547.6 138.0 550.0 C139.7 552.4 141.0 554.7 142.4 552.0 C143.8 549.3 145.1 543.4 146.5 533.6 C147.9 523.8 149.2 504.2 150.6 493.0 C151.9 481.8 152.9 471.9 154.6 466.4 C156.3 460.9 158.3 460.7 160.7 460.0 C163.1 459.3 166.6 458.9 169.0 462.4 C171.4 465.8 173.3 477.3 175.0 480.7 C176.7 484.1 177.7 484.7 179.0 482.7 C180.3 480.7 181.7 472.3 183.0 468.5 C184.3 464.7 185.3 460.0 187.0 460.0 C188.7 460.0 191.0 465.1 193.0 468.5 C195.0 471.9 196.9 477.3 199.0 480.7 C201.1 484.1 203.4 484.8 205.5 488.8 C207.6 492.9 209.6 499.6 211.6 505.0 C213.6 510.4 215.8 517.6 217.7 521.4 C219.6 525.1 221.7 523.4 223.0 527.5 C224.3 531.6 224.6 541.0 225.8 545.8 C227.0 550.5 228.6 555.3 230.0 556.0 C231.4 556.7 232.7 555.1 234.0 550.0 C235.3 544.9 236.7 531.3 238.0 525.5 C239.3 519.7 240.7 515.0 242.0 515.0 C243.3 515.0 244.7 524.4 246.0 525.5 C247.3 526.6 248.7 526.8 250.0 521.4 C251.3 516.0 252.3 502.5 254.0 493.0 C255.7 483.5 258.6 466.4 260.4 464.4 C262.1 462.3 263.3 469.8 264.5 480.7 C265.7 491.6 266.6 517.3 267.8 529.5 C269.0 541.7 270.3 552.6 271.8 554.0 C273.3 555.4 275.2 541.4 276.7 537.7 C278.2 534.0 279.4 532.0 280.8 531.6 C282.2 531.2 283.1 538.0 284.8 535.6 C286.5 533.2 289.0 526.1 291.0 517.3 C293.0 508.5 295.0 489.5 297.0 482.7 C299.0 475.9 301.0 479.0 303.0 476.6 C305.0 474.2 306.6 470.0 309.0 468.5 C311.4 467.0 315.3 465.7 317.4 467.7 C319.5 469.7 320.1 469.7 321.5 480.7 C322.9 491.7 324.1 522.4 325.5 533.6 C326.9 544.8 328.2 547.8 329.6 547.8 C331.0 547.8 332.4 544.8 333.7 533.6 C335.0 522.4 336.5 490.2 337.7 480.7 C338.9 471.2 339.8 475.2 341.0 476.6 C342.2 478.0 343.7 480.7 345.0 488.8 C346.3 496.9 347.5 520.4 349.0 525.5 C350.5 530.6 352.2 524.8 354.0 519.4 C355.8 514.0 358.3 498.2 360.0 493.0 C361.7 487.8 362.7 488.4 364.0 488.0 C365.3 487.6 366.3 486.3 368.0 490.9 C369.7 495.4 372.3 512.3 374.4 515.3 C376.5 518.3 378.6 514.8 380.5 509.0 C382.4 503.2 384.1 488.1 385.8 480.7 C387.5 473.3 388.8 465.8 390.6 464.4 C392.4 463.0 395.1 470.7 396.7 472.6 C398.3 474.5 398.4 474.5 400.0 475.8 C401.6 477.1 404.0 476.5 406.0 480.7 C408.0 484.9 409.9 491.5 412.0 501.0 C414.1 510.5 416.2 529.4 418.3 537.7 C420.4 546.0 422.0 548.2 424.4 550.7 C426.8 553.2 429.6 553.0 432.6 553.0 C435.7 553.0 440.0 552.6 442.7 550.7 C445.4 548.8 446.8 545.9 448.8 541.7 C450.9 537.5 453.0 533.0 455.0 525.5 C457.0 518.0 459.3 504.5 461.0 497.0 C462.7 489.5 463.3 481.7 465.0 480.7 C466.7 479.7 468.6 485.8 471.0 490.9 C473.4 496.0 477.0 510.5 479.4 511.2 C481.8 511.9 483.5 497.0 485.5 495.0 C487.5 493.0 489.6 498.5 491.6 499.0 C493.6 499.5 495.7 493.7 497.7 497.8 C499.7 501.9 501.9 518.8 503.8 523.4 C505.7 528.0 507.5 529.2 509.0 525.5 C510.5 521.8 511.5 510.5 513.0 501.0 C514.5 491.5 516.2 475.2 518.0 468.5 C519.8 461.8 522.3 461.0 524.0 461.0 C525.7 461.0 526.7 461.8 528.0 468.5 C529.3 475.2 530.3 489.1 532.0 501.0 C533.7 512.9 536.7 536.3 538.4 539.7 C540.1 543.1 541.0 529.2 542.4 521.4 C543.8 513.6 545.3 497.7 546.5 493.0 C547.7 488.3 548.4 486.2 549.7 493.0 C551.1 499.8 553.1 525.8 554.6 533.6 C556.1 541.4 557.0 540.7 558.7 539.7 C560.4 538.7 563.1 527.8 564.8 527.5 C566.5 527.2 567.5 534.3 568.9 537.7 C570.3 541.1 571.3 550.5 573.0 547.8 C574.7 545.1 577.0 531.6 579.0 521.4 C581.0 511.2 582.6 494.3 585.0 486.8 C587.4 479.3 590.6 480.3 593.3 476.6 C596.0 472.9 598.7 467.1 601.4 464.4 C604.1 461.7 606.9 460.0 609.6 460.3 C612.3 460.6 615.0 464.0 617.7 466.4 C620.4 468.8 623.4 467.5 625.8 474.6 C628.2 481.7 630.3 502.2 632.0 509.0 C633.7 515.8 634.7 516.6 636.0 515.3 C637.3 514.0 638.7 505.1 640.0 501.0 C641.3 496.9 642.3 490.6 644.0 490.9 C645.7 491.2 647.9 500.0 650.0 503.0 C652.1 506.0 654.7 509.3 656.4 509.0 C658.1 508.7 658.7 508.1 660.4 501.0 C662.1 493.9 664.8 470.8 666.5 466.4 C668.2 462.0 668.9 468.8 670.6 474.6 C672.3 480.4 675.0 495.9 676.7 501.0 C678.4 506.1 679.1 505.0 680.8 505.0 C682.5 505.0 685.2 498.3 686.9 501.0 C688.6 503.7 689.6 513.6 691.0 521.4 C692.4 529.2 693.3 542.7 695.0 547.8 C696.7 552.9 699.0 552.0 701.0 552.0 C703.0 552.0 705.3 552.9 707.0 547.8 C708.7 542.7 709.9 530.5 711.3 521.4 C712.7 512.3 713.8 498.8 715.4 493.0 C717.0 487.2 719.0 486.8 720.7 486.8 C722.4 486.8 724.0 490.3 725.5 493.0 C727.0 495.7 727.9 505.7 729.6 503.0 C731.3 500.3 733.8 483.4 735.7 476.6 C737.6 469.8 739.0 464.1 741.0 462.4 C743.0 460.7 745.8 463.3 748.0 466.4 C750.2 469.4 752.3 474.9 754.0 480.7 C755.7 486.5 756.7 492.2 758.0 501.0 C759.3 509.8 760.6 526.8 762.0 533.6 C763.4 540.4 764.7 541.0 766.2 541.7 C767.7 542.4 769.3 536.5 771.0 537.7 C772.7 538.9 774.8 546.6 776.4 549.0 C778.0 551.4 779.1 554.6 780.5 552.0 C781.9 549.4 783.1 544.1 784.5 533.6 C785.9 523.1 787.4 495.6 788.6 488.8 C789.8 482.0 790.4 486.2 791.5 493.0 C792.6 499.8 794.1 521.0 795.5 529.5 C796.9 538.0 798.2 543.1 800.0 543.8 C801.8 544.5 804.0 539.4 806.0 533.6 C808.0 527.8 810.5 513.4 812.2 509.0 C813.9 504.6 815.1 504.9 816.3 507.0 C817.5 509.1 818.3 514.8 819.5 521.4 C820.7 528.0 822.4 542.1 823.6 546.7 C824.8 551.3 825.4 553.2 826.5 549.0 C827.6 544.8 829.3 532.1 830.5 521.4 C831.7 510.7 832.8 492.1 833.8 484.8 C834.8 477.5 835.6 478.5 836.6 477.5 C837.6 476.5 839.0 478.5 839.5 478.7" fill="none" stroke="#f0b040" stroke-width="1.3"/>
</g>
<clipPath id="c3"><rect x="9" y="566" width="1110" height="118"/></clipPath>
<g clip-path="url(#c3)">
<linearGradient id="rg" x1="0" y1="0" x2="0" y2="1"><stop offset="0" stop-color="#f23645" stop-opacity="0.1"/><stop offset="1" stop-color="#f23645" stop-opacity="0.75"/></linearGradient>
<polygon points="135.6,649.2 138.4,672 141.6,675 146.4,649.2" fill="url(#rg)"/>
<polyline points="9.0,596.7 14.2,590.6 20.3,594.6 26.4,584.5 32.6,606.8 38.7,600.7 42.7,592.6 48.0,580.4 50.9,594.6 55.0,619.0 61.0,629.2 67.0,635.3 73.2,628.0 79.3,625.0 83.4,641.4 86.3,651.6 90.3,643.5 94.4,651.6 97.7,621.0 101.7,633.3 106.6,639.4 112.0,647.5 118.0,641.4 122.0,649.6 126.0,641.4 131.0,649.6 135.0,653.6 138.4,672.0 141.6,675.0 144.5,659.7 148.5,643.5 152.6,635.3 158.7,625.0 164.8,619.0 171.0,622.3 177.0,611.0 181.0,615.8 185.0,594.6 189.2,588.5 194.5,600.7 199.4,604.8 203.5,600.7 209.6,599.5 215.7,598.7 219.7,606.8 225.8,619.0 231.0,628.0 236.0,611.0 240.0,619.0 244.0,621.0 249.0,619.0 253.0,602.8 258.4,600.7 261.2,594.6 264.5,619.0 270.6,629.2 274.7,619.0 280.0,634.5 284.8,623.0 289.7,611.0 295.0,615.0 301.0,613.0 307.0,611.0 313.3,604.8 319.4,615.0 323.5,627.2 329.6,625.0 334.5,602.8 338.5,592.6 342.6,619.0 347.9,615.0 352.0,611.0 358.0,594.6 362.0,606.8 368.3,602.8 372.3,608.9 378.4,604.8 384.5,580.4 388.6,582.4 392.7,585.7 400.0,583.2 408.0,585.7 414.2,584.5 418.3,596.7 422.4,602.8 428.5,617.0 434.6,629.2 438.7,649.6 444.0,655.7 448.0,639.4 452.9,641.4 457.0,633.3 461.0,619.0 465.0,631.3 471.0,631.3 477.3,635.3 481.4,627.2 487.5,628.0 493.6,634.5 499.7,631.3 503.8,639.4 507.8,643.5 512.0,631.3 518.0,613.0 524.0,611.7 528.0,627.2 532.2,631.3 536.3,641.4 540.4,619.0 546.5,621.0 550.6,633.3 556.7,639.4 562.8,635.3 567.7,651.6 571.0,654.8 577.0,643.5 583.0,635.3 589.2,637.4 595.3,631.3 599.4,619.0 605.5,615.0 609.6,594.6 615.7,592.6 621.8,594.6 624.6,592.6 630.0,606.8 634.0,602.8 640.0,593.8 646.2,600.7 650.3,596.7 656.4,602.8 660.4,588.5 664.5,580.4 670.6,592.6 676.7,591.4 682.8,590.6 686.9,592.6 691.0,611.0 695.0,621.0 700.3,631.3 705.2,625.0 709.3,611.0 713.3,588.5 717.4,602.8 723.5,606.8 727.6,596.7 731.6,586.5 737.7,582.4 743.8,579.6 749.0,582.4 754.0,588.5 760.0,594.6 764.2,590.6 770.3,596.7 774.4,600.7 780.5,606.8 784.5,596.7 788.6,592.6 794.7,602.8 800.0,608.5 804.0,602.9 807.3,609.0 810.2,594.0 813.0,592.7 816.3,607.0 820.4,615.0 823.6,619.0 827.7,607.0 830.5,594.7 833.4,586.6 835.8,595.5 837.9,591.5 839.9,594.7" fill="none" stroke="#7e57c2" stroke-width="1.2" stroke-linejoin="round"/>
<path d="M9.0 622.3 C10.2 621.1 13.7 618.2 16.3 615.0 C18.9 611.8 21.7 606.0 24.4 602.8 C27.1 599.6 29.9 597.0 32.6 595.9 C35.3 594.8 37.7 596.0 40.7 595.9 C43.8 595.8 47.5 593.6 50.9 595.4 C54.3 597.2 57.6 602.5 61.0 606.8 C64.4 611.1 67.8 616.9 71.2 621.0 C74.6 625.1 77.7 628.6 81.4 631.3 C85.1 634.0 89.5 636.2 93.6 637.4 C97.7 638.5 101.7 638.1 105.8 638.2 C109.9 638.3 113.9 637.3 118.0 638.2 C122.1 639.1 126.5 641.5 130.2 643.5 C133.9 645.5 137.7 648.9 140.4 650.4 C143.1 651.9 143.8 652.8 146.5 652.4 C149.2 652.0 153.3 650.5 156.7 648.3 C160.1 646.1 163.1 643.3 166.8 639.4 C170.5 635.5 174.9 629.7 179.0 625.0 C183.1 620.3 187.2 614.8 191.3 611.0 C195.4 607.2 199.8 603.9 203.5 602.0 C207.2 600.1 210.5 599.7 213.6 599.5 C216.7 599.3 218.7 599.5 221.8 600.7 C224.9 601.9 228.6 604.4 232.0 606.8 C235.4 609.2 238.9 613.0 242.0 615.0 C245.1 617.0 247.6 619.0 250.3 619.0 C253.0 619.0 256.0 616.0 258.4 615.0 C260.8 614.0 261.8 613.0 264.5 613.0 C267.2 613.0 271.3 613.7 274.7 615.0 C278.1 616.3 281.8 619.5 284.8 621.0 C287.9 622.5 290.0 624.3 293.0 624.0 C296.0 623.7 299.6 620.6 303.0 619.0 C306.4 617.4 310.2 615.2 313.3 614.2 C316.4 613.2 318.4 612.9 321.5 613.0 C324.6 613.1 328.2 614.8 331.6 615.0 C335.0 615.2 338.1 614.9 341.8 614.2 C345.5 613.5 349.9 612.1 354.0 611.0 C358.1 609.9 362.1 608.5 366.2 607.7 C370.3 606.9 374.7 607.2 378.4 606.0 C382.1 604.8 385.0 602.7 388.6 600.7 C392.2 598.7 396.8 596.2 400.0 593.8 C403.2 591.4 405.6 587.9 408.0 586.5 C410.4 585.1 411.8 584.6 414.2 585.3 C416.6 586.0 419.3 587.4 422.4 590.6 C425.5 593.9 428.9 599.1 432.6 604.8 C436.3 610.5 440.7 619.6 444.8 625.0 C448.9 630.4 453.3 635.0 457.0 637.4 C460.7 639.8 463.6 640.1 467.0 639.4 C470.4 638.7 473.6 635.0 477.3 633.3 C481.1 631.6 485.4 629.7 489.5 629.2 C493.6 628.7 497.6 630.0 501.7 630.4 C505.8 630.8 509.9 631.8 514.0 631.3 C518.0 630.8 521.9 628.2 526.0 627.2 C530.1 626.2 534.3 625.1 538.4 625.0 C542.5 624.9 546.5 625.2 550.6 626.4 C554.7 627.6 558.7 629.8 562.8 632.0 C566.9 634.2 571.3 637.7 575.0 639.4 C578.7 641.1 581.6 642.0 585.0 642.2 C588.4 642.4 592.2 642.4 595.3 640.6 C598.4 638.8 600.5 635.6 603.5 631.3 C606.5 627.0 610.2 619.4 613.6 615.0 C617.0 610.6 620.4 607.2 623.8 604.8 C627.2 602.4 630.6 601.5 634.0 600.7 C637.4 599.9 640.6 599.9 644.0 600.0 C647.4 600.1 650.9 602.0 654.3 601.5 C657.7 601.0 660.8 598.1 664.5 596.7 C668.2 595.4 673.0 594.4 676.7 593.4 C680.4 592.4 683.9 589.7 686.9 590.6 C689.9 591.5 692.0 595.7 695.0 598.7 C698.0 601.8 701.8 606.3 705.2 608.9 C708.6 611.5 712.0 613.5 715.4 614.2 C718.8 614.9 722.1 614.9 725.5 613.0 C728.9 611.1 732.3 606.0 735.7 602.8 C739.1 599.6 741.9 596.5 745.9 593.8 C749.9 591.1 755.6 587.0 760.0 586.5 C764.4 586.0 768.5 589.0 772.3 590.6 C776.0 592.2 779.1 594.8 782.5 595.9 C785.9 597.0 789.8 596.7 792.7 597.5 C795.6 598.3 797.5 599.6 800.0 600.5 C802.5 601.4 805.6 602.9 808.0 602.9 C810.4 602.9 812.2 600.7 814.3 600.8 C816.4 600.9 818.4 602.7 820.4 603.7 C822.4 604.7 824.5 606.8 826.5 607.0 C828.5 607.2 830.4 605.7 832.6 604.9 C834.8 604.1 838.4 602.5 839.5 602.0" fill="none" stroke="#f0e04a" stroke-width="1.3"/>
</g>
<text x="1126.8" y="120.6" textLength="53.4" lengthAdjust="spacingAndGlyphs" fill="#a6a9b3" font-size="12">66,000.00</text>
<text x="1126.8" y="228.1" textLength="53.4" lengthAdjust="spacingAndGlyphs" fill="#a6a9b3" font-size="12">60,000.00</text>
<text x="1126.8" y="264.0" textLength="53.4" lengthAdjust="spacingAndGlyphs" fill="#a6a9b3" font-size="12">58,000.00</text>
<text x="1126.8" y="299.8" textLength="53.4" lengthAdjust="spacingAndGlyphs" fill="#a6a9b3" font-size="12">56,000.00</text>
<text x="1126.8" y="335.7" textLength="53.4" lengthAdjust="spacingAndGlyphs" fill="#a6a9b3" font-size="12">54,000.00</text>
<text x="1126.8" y="371.5" textLength="53.4" lengthAdjust="spacingAndGlyphs" fill="#a6a9b3" font-size="12">52,000.00</text>
<text x="1126.8" y="407.4" textLength="53.4" lengthAdjust="spacingAndGlyphs" fill="#a6a9b3" font-size="12">50,000.00</text>
<text x="1126.8" y="443.2" textLength="53.4" lengthAdjust="spacingAndGlyphs" fill="#a6a9b3" font-size="12">48,000.00</text>
<text x="1126.8" y="483.1" textLength="30.0" lengthAdjust="spacingAndGlyphs" fill="#a6a9b3" font-size="12">80.00</text>
<text x="1126.8" y="521.4" textLength="30.0" lengthAdjust="spacingAndGlyphs" fill="#a6a9b3" font-size="12">40.00</text>
<text x="1126.8" y="559.6" textLength="23.4" lengthAdjust="spacingAndGlyphs" fill="#a6a9b3" font-size="12">0.00</text>
<text x="1126.8" y="602.6" textLength="30.0" lengthAdjust="spacingAndGlyphs" fill="#a6a9b3" font-size="12">60.00</text>
<text x="1126.8" y="636.2" textLength="30.0" lengthAdjust="spacingAndGlyphs" fill="#a6a9b3" font-size="12">40.00</text>
<text x="1126.8" y="669.8" textLength="30.0" lengthAdjust="spacingAndGlyphs" fill="#a6a9b3" font-size="12">20.00</text>
<rect x="1121.5" y="27.5" width="65.0" height="23.5" rx="4" fill="#131722" stroke="#2a2e39" stroke-width="1"/>
<text x="1130.0" y="43.6" textLength="27.9" lengthAdjust="spacingAndGlyphs" fill="#d1d4dc" font-size="12">USDT</text>
<rect x="1119.0" y="77.0" width="67.0" height="16.0" rx="1.2" fill="#ffeb3b"/>
<text x="1126.8" y="89.2" textLength="53.4" lengthAdjust="spacingAndGlyphs" fill="#131722" font-size="12" fill-opacity="1">67,811.12</text>
<rect x="1119.0" y="127.4" width="67.0" height="42.8" rx="1.2" fill="#f23645"/>
<text x="1126.8" y="138.6" textLength="53.4" lengthAdjust="spacingAndGlyphs" fill="#ffffff" font-size="12" fill-opacity="1">65,011.62</text>
<text x="1126.8" y="151.0" textLength="29.4" lengthAdjust="spacingAndGlyphs" fill="#ffffff" font-size="12" fill-opacity="0.65">30:00</text>
<text x="1126.8" y="166.5" textLength="53.4" lengthAdjust="spacingAndGlyphs" fill="#ffffff" font-size="12" fill-opacity="1">65,000.00</text>
<rect x="1119.0" y="171.0" width="67.0" height="14.6" rx="1.2" fill="#ffeb3b"/>
<text x="1126.8" y="181.9" textLength="53.4" lengthAdjust="spacingAndGlyphs" fill="#131722" font-size="12" fill-opacity="1">65,000.00</text>
<rect x="1119.0" y="185.6" width="67.0" height="15.2" rx="1.2" fill="#ffeb3b"/>
<text x="1126.8" y="196.8" textLength="53.4" lengthAdjust="spacingAndGlyphs" fill="#131722" font-size="12" fill-opacity="1">62,242.00</text>
<rect x="1119.0" y="240.8" width="67.0" height="15.0" rx="1.2" fill="#ffeb3b"/>
<text x="1126.8" y="251.3" textLength="53.4" lengthAdjust="spacingAndGlyphs" fill="#131722" font-size="12" fill-opacity="1">58,717.98</text>
<text x="81.0" y="703.0" textLength="21.9" lengthAdjust="spacingAndGlyphs" fill="#d1d4dc" font-size="12" text-anchor="middle" font-weight="bold">Aug</text>
<text x="153.5" y="703.0" textLength="28.2" lengthAdjust="spacingAndGlyphs" fill="#a6a9b3" font-size="12" text-anchor="middle" font-weight="normal">12:00</text>
<text x="226.0" y="703.0" textLength="12.5" lengthAdjust="spacingAndGlyphs" fill="#a6a9b3" font-size="12" text-anchor="middle" font-weight="normal">12</text>
<text x="319.0" y="703.0" textLength="12.5" lengthAdjust="spacingAndGlyphs" fill="#a6a9b3" font-size="12" text-anchor="middle" font-weight="normal">19</text>
<text x="411.0" y="703.0" textLength="12.5" lengthAdjust="spacingAndGlyphs" fill="#a6a9b3" font-size="12" text-anchor="middle" font-weight="normal">26</text>
<text x="490.6" y="703.0" textLength="20.7" lengthAdjust="spacingAndGlyphs" fill="#d1d4dc" font-size="12" text-anchor="middle" font-weight="bold">Sep</text>
<text x="596.5" y="703.0" textLength="6.3" lengthAdjust="spacingAndGlyphs" fill="#a6a9b3" font-size="12" text-anchor="middle" font-weight="normal">9</text>
<text x="689.0" y="703.0" textLength="12.5" lengthAdjust="spacingAndGlyphs" fill="#a6a9b3" font-size="12" text-anchor="middle" font-weight="normal">16</text>
<text x="781.5" y="703.0" textLength="12.5" lengthAdjust="spacingAndGlyphs" fill="#a6a9b3" font-size="12" text-anchor="middle" font-weight="normal">23</text>
<text x="887.5" y="703.0" textLength="18.8" lengthAdjust="spacingAndGlyphs" fill="#d1d4dc" font-size="12" text-anchor="middle" font-weight="bold">Oct</text>
<text x="967.0" y="703.0" textLength="6.3" lengthAdjust="spacingAndGlyphs" fill="#a6a9b3" font-size="12" text-anchor="middle" font-weight="normal">7</text>
<text x="1060.0" y="703.0" textLength="12.5" lengthAdjust="spacingAndGlyphs" fill="#a6a9b3" font-size="12" text-anchor="middle" font-weight="normal">14</text>
<text x="9.3" y="18.2" textLength="367.7" lengthAdjust="spacingAndGlyphs" fill="#d1d4dc" font-size="11.7">CounterTrade published on TradingView.com, Sep 27, 2024 11:30 UTC+8</text>
<text x="16.7" y="41.6" textLength="163.3" lengthAdjust="spacingAndGlyphs" fill="#c5c8d0" font-size="11.4">Bitcoin / TetherUS, 4h, BINANCE</text>
<text x="187.5" y="41.6" textLength="90.1" lengthAdjust="spacingAndGlyphs" fill="#d9435a" font-size="11.4">−162.37 (−0.25%)</text>
<text x="284.2" y="41.6" textLength="16.1" lengthAdjust="spacingAndGlyphs" fill="#c5c8d0" font-size="11.4">Vol</text>
<text x="301.0" y="41.6" textLength="36.6" lengthAdjust="spacingAndGlyphs" fill="#d9435a" font-size="11.4">2.023 K</text>
<text x="16.7" y="57.3" textLength="77.3" lengthAdjust="spacingAndGlyphs" fill="#c5c8d0" font-size="11.4">20/50/200 MAs</text>
<text x="101.0" y="57.3" textLength="50.8" lengthAdjust="spacingAndGlyphs" fill="#d81a1a" font-size="11.4">64,074.30</text>
<text x="159.0" y="57.3" textLength="51.0" lengthAdjust="spacingAndGlyphs" fill="#1414cc" font-size="11.4">63,443.67</text>
<text x="216.8" y="57.3" textLength="50.8" lengthAdjust="spacingAndGlyphs" fill="#1a7a1a" font-size="11.4">59,795.85</text>
<text x="16.7" y="72.6" textLength="282.9" lengthAdjust="spacingAndGlyphs" fill="#c5c8d0" font-size="11.4">Watermark (Jimmy 米哥, , huge, middle, center, 50, 100)</text>
<text x="16.3" y="466.3" textLength="147.6" lengthAdjust="spacingAndGlyphs" fill="#c5c8d0" font-size="11.4">Stoch RSI (3, 3, 14, 14, close)</text>
<text x="170.0" y="466.3" textLength="28.0" lengthAdjust="spacingAndGlyphs" fill="#2e2ee0" font-size="11.4">74.22</text>
<text x="204.6" y="466.3" textLength="28.6" lengthAdjust="spacingAndGlyphs" fill="#f0b040" font-size="11.4">80.07</text>
<text x="16.3" y="584.9" textLength="71.7" lengthAdjust="spacingAndGlyphs" fill="#c5c8d0" font-size="11.4">RSI (14, close)</text>
<text x="95.6" y="584.9" textLength="26.4" lengthAdjust="spacingAndGlyphs" fill="#7e57c2" font-size="11.4">62.17</text>
<text x="128.8" y="584.9" textLength="26.8" lengthAdjust="spacingAndGlyphs" fill="#f0e04a" font-size="11.4">57.82</text>
<text x="165" y="584.6" text-anchor="middle" fill="#9598a1" font-size="10.5">∅</text>
<text x="179.6" y="584.6" text-anchor="middle" fill="#9598a1" font-size="10.5">∅</text>
<text x="193" y="584.6" text-anchor="middle" fill="#9598a1" font-size="10.5">∅</text>
<text x="207" y="584.6" text-anchor="middle" fill="#9598a1" font-size="10.5">∅</text>
<g fill="#d1d4dc"><path d="M9 721.3h7.5v8.5h-4.2v-4.5H9z"/><circle cx="18.8" cy="723" r="1.6"/><path d="M21.9 721.3h4.6l-2.9 8.5h-4.6z"/></g>
<text x="30.3" y="729.8" textLength="66.3" lengthAdjust="spacingAndGlyphs" fill="#d1d4dc" font-size="11.6" font-weight="bold">TradingView</text></svg>
</body></html>
